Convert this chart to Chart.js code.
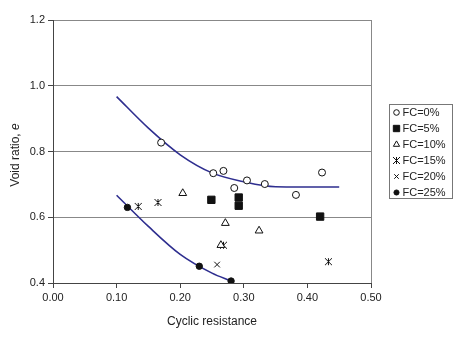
<!DOCTYPE html>
<html>
<head>
<meta charset="utf-8">
<script src="https://cdn.jsdelivr.net/npm/chart.js@4.4.1/dist/chart.umd.min.js"></script>
<style>
  html, body { margin: 0; padding: 0; background: #fff; }
  #wrap { width: 474px; height: 338px; }
</style>
</head>
<body>
<div id="wrap"><canvas id="voidChart" width="474" height="338"></canvas></div>
<script>
// measured points: [cyclic resistance, void ratio]
const fc0 = [[0.170, 0.827], [0.252, 0.734], [0.268, 0.741], [0.285, 0.689], [0.305, 0.712],
             [0.333, 0.701], [0.382, 0.668], [0.423, 0.736]];
const fc5 = [[0.249, 0.653], [0.292, 0.660], [0.292, 0.635], [0.420, 0.602]];
const fc10 = [[0.204, 0.673], [0.271, 0.582], [0.324, 0.559], [0.264, 0.515]];
const fc15 = [[0.134, 0.633], [0.165, 0.645], [0.268, 0.515], [0.433, 0.465]];
const fc20 = [[0.258, 0.456]];
const fc25 = [[0.117, 0.630], [0.230, 0.451], [0.280, 0.406]];

// trend curves (upper and lower bound)
const upperCurve = [[0.10, 0.967], [0.15, 0.871], [0.20, 0.790], [0.25, 0.735], [0.30, 0.708],
                    [0.35, 0.693], [0.45, 0.692]];
const lowerCurve = [[0.10, 0.667], [0.15, 0.572], [0.20, 0.487], [0.25, 0.430], [0.28, 0.406]];

const xTicks = [0, 0.1, 0.2, 0.3, 0.4, 0.5];
const yTicks = [0.4, 0.6, 0.8, 1.0, 1.2];

const ink = '#111';
const curveColor = '#2e2e8f';
const textColor = '#222';
const fontFamily = '"Liberation Sans", Arial, sans-serif';

const toXY = arr => arr.map(p => ({ x: p[0], y: p[1] }));

// "x with a vertical bar" marker
function makeStar(size) {
  const c = document.createElement('canvas');
  c.width = size; c.height = size;
  const g = c.getContext('2d');
  const m = size / 2, a = size / 2 - 1;
  g.strokeStyle = ink;
  g.lineWidth = 1;
  g.beginPath();
  g.moveTo(m - a, m - a); g.lineTo(m + a, m + a);
  g.moveTo(m + a, m - a); g.lineTo(m - a, m + a);
  g.moveTo(m, m - a); g.lineTo(m, m + a);
  g.stroke();
  return c;
}
const starMark = makeStar(9);

const markerSets = [
  { label: 'FC=0%', data: fc0, style: 'circle', r: 3.5, fill: '#fff' },
  { label: 'FC=5%', data: fc5, style: 'rect', r: 5.2, fill: ink },
  { label: 'FC=10%', data: fc10, style: 'triangle', r: 4.5, fill: '#fff' },
  { label: 'FC=15%', data: fc15, style: starMark, r: 4.5, fill: ink },
  { label: 'FC=20%', data: fc20, style: 'crossRot', r: 4, fill: ink },
  { label: 'FC=25%', data: fc25, style: 'circle', r: 3.2, fill: ink }
];

const datasets = markerSets.map(s => ({
  label: s.label,
  data: toXY(s.data),
  showLine: false,
  pointStyle: s.style,
  pointRadius: s.r,
  pointBackgroundColor: s.fill,
  pointBorderColor: ink,
  pointBorderWidth: 1
}));

[upperCurve, lowerCurve].forEach(c => {
  datasets.push({
    label: '',
    data: toXY(c),
    showLine: true,
    borderColor: curveColor,
    borderWidth: 1.6,
    pointRadius: 0,
    cubicInterpolationMode: 'monotone'
  });
});

// boxed legend on the right + y title with italic "e"
const extras = {
  id: 'extras',
  afterDraw(chart) {
    const ctx = chart.ctx;
    ctx.save();
    const bx = 389.5, by = 104.5, bw = 63, bh = 94;
    ctx.strokeStyle = '#777';
    ctx.lineWidth = 1;
    ctx.strokeRect(bx, by, bw, bh);
    ctx.font = '11px ' + fontFamily;
    ctx.textBaseline = 'middle';
    markerSets.forEach((s, i) => {
      const cy = by + 8 + i * 16;
      ctx.fillStyle = s.fill;
      ctx.strokeStyle = ink;
      ctx.lineWidth = 1;
      Chart.helpers.drawPoint(ctx, {
        pointStyle: s.style,
        radius: s.style === 'rect' ? 4.5 : s.r * 0.8,
        borderWidth: 1
      }, bx + 7, cy);
      ctx.fillStyle = textColor;
      ctx.fillText(s.label, bx + 13, cy);
    });
    // y axis title
    ctx.translate(16, 155);
    ctx.rotate(-Math.PI / 2);
    ctx.textAlign = 'left';
    const main = 'Void ratio, ';
    ctx.font = '12px ' + fontFamily;
    const w1 = ctx.measureText(main).width;
    ctx.font = 'italic 12px ' + fontFamily;
    const w2 = ctx.measureText('e').width;
    const start = -(w1 + w2) / 2;
    ctx.font = '12px ' + fontFamily;
    ctx.fillText(main, start, 0);
    ctx.font = 'italic 12px ' + fontFamily;
    ctx.fillText('e', start + w1, 0);
    ctx.restore();
  }
};

new Chart(document.getElementById('voidChart'), {
  type: 'scatter',
  data: { datasets },
  options: {
    responsive: false,
    animation: false,
    layout: { padding: { top: 20, right: 103, left: 0, bottom: 9 } },
    plugins: {
      legend: { display: false },
      tooltip: { enabled: false }
    },
    scales: {
      x: {
        type: 'linear',
        min: 0, max: 0.5,
        afterBuildTicks: s => { s.ticks = xTicks.map(v => ({ value: v })); },
        afterFit: s => { s.height = 46; },
        border: { color: '#444', width: 1 },
        grid: {
          color: c => (c.tick && c.tick.value === 0.5 ? '#888' : 'rgba(0,0,0,0)'),
          tickColor: '#444',
          tickLength: 5
        },
        ticks: {
          color: textColor,
          font: { family: fontFamily, size: 11 },
          padding: 3,
          maxRotation: 0,
          callback: v => v.toFixed(2)
        },
        title: {
          display: true,
          text: 'Cyclic resistance',
          color: textColor,
          font: { family: fontFamily, size: 12 },
          padding: { top: 6, bottom: 0 }
        }
      },
      y: {
        type: 'linear',
        min: 0.4, max: 1.2,
        afterBuildTicks: s => { s.ticks = yTicks.map(v => ({ value: v })); },
        afterFit: s => { s.width = 53; },
        border: { color: '#444', width: 1 },
        grid: {
          color: c => (c.tick && c.tick.value === 0.4 ? 'rgba(0,0,0,0)' : '#888'),
          tickColor: '#444',
          tickLength: 5
        },
        ticks: {
          color: textColor,
          font: { family: fontFamily, size: 11 },
          padding: 3,
          callback: v => v.toFixed(1)
        }
      }
    }
  },
  plugins: [extras]
});
</script>
</body>
</html>
